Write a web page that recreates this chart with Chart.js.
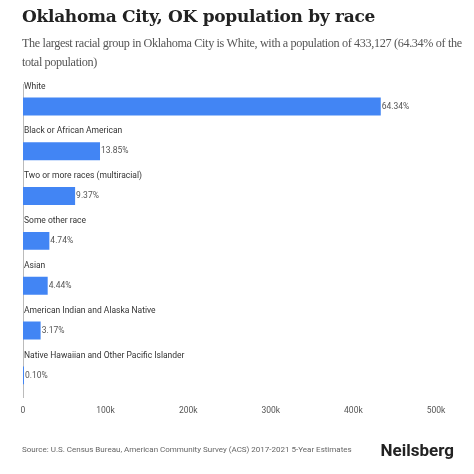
<!DOCTYPE html>
<html><head><meta charset="utf-8">
<script src="https://cdn.jsdelivr.net/npm/chart.js@4"></script>
<style>
body{margin:0;width:474px;height:474px;position:relative;background:#fff;overflow:hidden}
#c{position:absolute;left:0;top:0}
.t{position:absolute;left:22px;top:6px;font:bold 17px "DejaVu Serif",serif;color:#222;letter-spacing:-0.3px}
.s{position:absolute;left:22px;top:34px;width:460px;white-space:nowrap;font:12.2px "Liberation Serif",serif;color:#555;line-height:19px;letter-spacing:-0.35px}
.src{position:absolute;left:22px;top:445px;font:8px Roboto,sans-serif;color:#666}
.logo{position:absolute;right:20px;top:440px;font:bold 17px Roboto,sans-serif;color:#222}
</style></head><body>
<canvas id="c" width="474" height="474"></canvas>
<div class="t">Oklahoma City, OK population by race</div>
<div class="s">The largest racial group in Oklahoma City is White, with a population of 433,127 (64.34% of the<br>total population)</div>
<div class="src">Source: U.S. Census Bureau, American Community Survey (ACS) 2017-2021 5-Year Estimates</div>
<div class="logo">Neilsberg</div>
<script>
const categories=["White","Black or African American","Two or more races (multiracial)","Some other race","Asian","American Indian and Alaska Native","Native Hawaiian and Other Pacific Islander"];
const values=[433127,93231,63074,31907,29888,21339,673];
const percents=["64.34%","13.85%","9.37%","4.74%","4.44%","3.17%","0.10%"];
const labelPlugin={id:'lbl',afterDatasetsDraw(chart){
 const ctx=chart.ctx,meta=chart.getDatasetMeta(0);
 ctx.save();ctx.textBaseline='middle';
 meta.data.forEach((b,i)=>{
  ctx.font='8.5px Roboto,sans-serif';ctx.fillStyle='#333';ctx.textAlign='left';
  ctx.fillText(categories[i],chart.chartArea.left+1,b.y-20);
  ctx.fillStyle='#555';
  ctx.fillText(percents[i],b.x+1,b.y);
 });
 ctx.restore();}};
new Chart(document.getElementById('c'),{type:'bar',
 data:{labels:categories,datasets:[{data:values,backgroundColor:'#4285f4',barPercentage:0.4,categoryPercentage:1,minBarLength:1}]},
 options:{indexAxis:'y',responsive:false,animation:false,
  layout:{padding:{left:15,right:38,top:84,bottom:58}},
  plugins:{legend:{display:false},tooltip:{enabled:false}},
  scales:{
   y:{display:true,ticks:{display:false},grid:{display:false},border:{display:true,color:'#bbb'}},
   x:{min:0,max:500000,ticks:{stepSize:100000,padding:0,color:'#555',font:{size:8.5,family:'Roboto'},callback:v=>v===0?'0':(v/1000)+'k'},grid:{display:false},border:{display:false}}
  }}
 ,plugins:[labelPlugin]});
</script></body></html>
